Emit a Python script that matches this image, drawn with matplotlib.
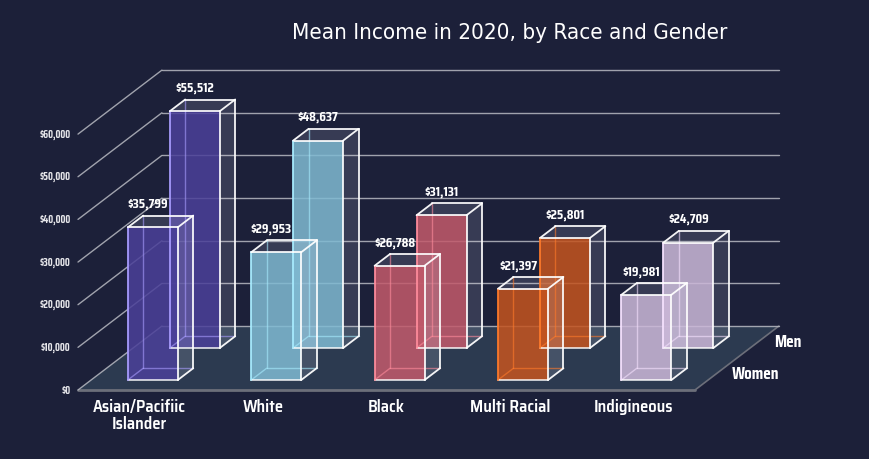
import matplotlib

matplotlib.use("Agg")

import matplotlib.pyplot as plt
from matplotlib.patches import Polygon

# data
categories = ["Asian/Pacifiic\nIslander", "White", "Black", "Multi Racial", "Indigineous"]
women = [35799, 29953, 26788, 21397, 19981]
men = [55512, 48637, 31131, 25801, 24709]
series_names = ["Women", "Men"]
y_ticks = [0, 10000, 20000, 30000, 40000, 50000, 60000]

face_colors = ["#4b4099", "#80bad2", "#c25a6b", "#c4541f", "#cbb8d8"]
edge_tints = ["#a99cff", "#a8ecff", "#ff8c9c", "#ff7a2a", "#f6e2ff"]

BG = "#1c2039"
FONT = ["Saira SemiCondensed", "DejaVu Sans"]
FONT_NARROW = ["Saira Condensed", "DejaVu Sans"]

# oblique projection of the depth axis (full depth = 1)
DX, DY = 0.68, 15000
BAR_W = 0.405
ROWS = [(0.156, 0.34), (0.656, 0.84)]


def proj(x, y, z):
    return x + z * DX, y + z * DY


def quad(points, **kw):
    return Polygon([proj(*p) for p in points], closed=True, **kw)


def line3(ax, p0, p1, **kw):
    a = proj(*p0)
    b = proj(*p1)
    ax.plot([a[0], b[0]], [a[1], b[1]], solid_capstyle="round", **kw)


def draw_bar(ax, x0, x1, v, z0, z1, color, tint):
    # side and top faces, translucent grey
    ax.add_patch(quad([(x1, 0, z0), (x1, 0, z1), (x1, v, z1), (x1, v, z0)],
                      facecolor="#d8dcef", alpha=0.15, lw=0, zorder=3))
    ax.add_patch(quad([(x0, v, z0), (x1, v, z0), (x1, v, z1), (x0, v, z1)],
                      facecolor="#d8dcef", alpha=0.15, lw=0, zorder=3))
    # front face
    ax.add_patch(quad([(x0, 0, z0), (x1, 0, z0), (x1, v, z0), (x0, v, z0)],
                      facecolor=color, alpha=0.86, lw=0, zorder=3))

    # hidden edges seen through the faces
    inner = dict(color=tint, lw=1.0, alpha=0.6, zorder=4)
    line3(ax, (x0, 0, z1), (x0, v, z1), **inner)
    line3(ax, (x0, 0, z1), (x1, 0, z1), **inner)
    line3(ax, (x0, 0, z0), (x0, 0, z1), **inner)

    # visible edges
    white = dict(color="white", lw=1.3, alpha=0.95, zorder=5)
    line3(ax, (x0, v, z0), (x1, v, z0), **white)
    line3(ax, (x1, 0, z0), (x1, v, z0), **white)
    line3(ax, (x0, 0, z0), (x1, 0, z0), color="white", lw=1.3, alpha=0.8, zorder=5)
    line3(ax, (x0, 0, z0), (x0, v, z0), color=tint, lw=1.4, alpha=0.9, zorder=5)
    line3(ax, (x0, v, z0), (x0, v, z1), **white)
    line3(ax, (x0, v, z1), (x1, v, z1), **white)
    line3(ax, (x1, v, z0), (x1, v, z1), **white)
    line3(ax, (x1, 0, z0), (x1, 0, z1), **white)
    line3(ax, (x1, 0, z1), (x1, v, z1), **white)


fig = plt.figure(figsize=(8.7, 4.59), dpi=100, facecolor=BG)
ax = fig.add_axes([0, 0, 1, 1])
ax.set_facecolor(BG)
ax.set_axis_off()

px_x = 123.4
px_y = 42.65 / 10000
ax.set_xlim(-78 / px_x, (870 - 78) / px_x)
ax.set_ylim(-69 / px_y, (459 - 69) / px_y)

n = len(categories)

# floor
ax.add_patch(quad([(0, 0, 0), (n, 0, 0), (n, 0, 1), (0, 0, 1)],
                  facecolor="#2c3a50", lw=0, zorder=1))
line3(ax, (0, 0, 0), (n, 0, 0), color="#6c6f7a", lw=2, zorder=2)
line3(ax, (n, 0, 0), (n, 0, 1), color="#6c6f7a", lw=1.2, zorder=2)

# grid on the left and back walls
for v in y_ticks:
    line3(ax, (0, v, 0), (0, v, 1), color="#b8bac2", lw=1, alpha=0.85, zorder=2)
    line3(ax, (0, v, 1), (n, v, 1), color="#b8bac2", lw=1, alpha=0.85, zorder=2)
    ax.text(-0.06, v, f"${v:,}", color="#e6e6ea", fontsize=7.5, family=FONT_NARROW,
            fontweight="bold", ha="right", va="center")

# bars, back row first
for row, values in [(1, men), (0, women)]:
    z0, z1 = ROWS[row]
    for i, v in enumerate(values):
        x0 = i + 0.5 - BAR_W / 2
        x1 = i + 0.5 + BAR_W / 2
        draw_bar(ax, x0, x1, v, z0, z1, face_colors[i], edge_tints[i])
        lx = i + 0.5 + z0 * DX - (0.04 if row == 0 else 0)
        ly = v + z1 * DY + 1100
        ax.text(lx, ly, f"${v:,}", color="white", fontsize=10, family=FONT_NARROW,
                fontweight="bold", ha="center", va="bottom", zorder=6)

# category labels
for i, name in enumerate(categories):
    ax.text(i + 0.5, -2000, name, color="white", fontsize=12, family=FONT,
            fontweight="semibold", ha="center", va="top", linespacing=1.12)

# series labels along the depth axis
for row, name in enumerate(series_names):
    zc = sum(ROWS[row]) / 2
    x, y = proj(n, 0, zc)
    ax.text(x + 0.13, y, name, color="white", fontsize=12.5, family=FONT_NARROW,
            fontweight="bold", ha="left", va="center")

fig.text(0.586, 0.928, "Mean Income in 2020, by Race and Gender", color="white",
         fontsize=16, family="DejaVu Sans", fontstretch="condensed",
         fontweight="normal", ha="center", va="center")

fig.savefig("out.png", dpi=100, facecolor=BG)
